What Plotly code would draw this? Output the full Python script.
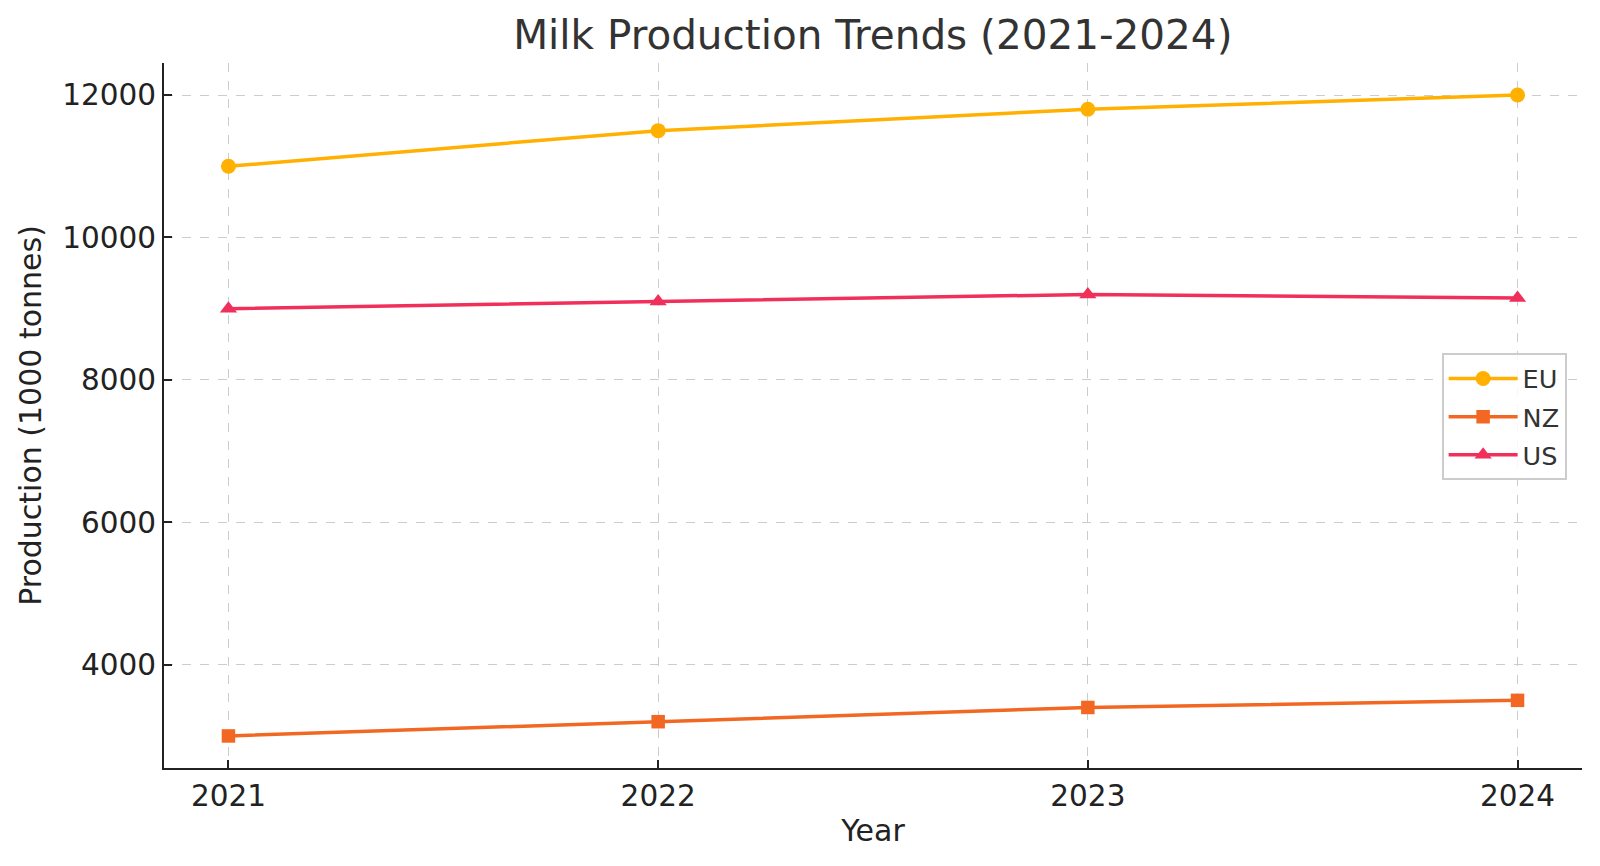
import plotly.graph_objects as go

years = [2021, 2022, 2023, 2024]
eu = [11000, 11500, 11800, 12000]
nz = [3000, 3200, 3400, 3500]
us = [9000, 9100, 9200, 9150]

series = [
    ("EU", eu, "#FFB000", "circle"),
    ("NZ", nz, "#F26822", "square"),
    ("US", us, "#F0305A", "triangle-up"),
]

fig = go.Figure()
for name, vals, col, sym in series:
    fig.add_trace(go.Scatter(
        x=years, y=vals, name=name, mode="lines+markers", legendgroup=name,
        line=dict(color=col, width=3.5),
        marker=dict(symbol=sym, size=15 if sym != "square" else 13.5, color=col),
    ))

font_family = "DejaVu Sans"
fig.update_layout(
    width=1600, height=866,
    margin=dict(l=164, r=18, t=63, b=98),
    paper_bgcolor="white", plot_bgcolor="white",
    font=dict(family=font_family, color="#222222", size=29),
    title=dict(text="Milk Production Trends (2021-2024)", x=0.5455, xanchor="center",
               y=0.96, yanchor="middle",
               font=dict(size=40.5, color="#333333", family=font_family)),
    legend=dict(x=0.901, y=0.588, xanchor="left", yanchor="top",
                bgcolor="rgba(255,255,255,0.85)", bordercolor="#cccccc", borderwidth=2,
                font=dict(size=25.5, color="#333333"), tracegroupgap=2, itemwidth=69),
    showlegend=True,
)
fig.update_xaxes(
    range=[2020.85, 2024.15], tickvals=years, ticktext=[str(y) for y in years],
    showline=True, linecolor="#222222", linewidth=2.2, mirror=False,
    ticks="inside", ticklen=8, tickwidth=2, tickcolor="#222222",
    showgrid=True, gridcolor="#cccccc", griddash="dash", gridwidth=1.3,
    zeroline=False,
    title=dict(text="Year", font=dict(size=30), standoff=8),
    tickfont=dict(size=29.5),
)
fig.update_yaxes(
    range=[2550, 12450], tickvals=[4000, 6000, 8000, 10000, 12000], tickformat="d",
    showline=True, linecolor="#222222", linewidth=2.2, mirror=False,
    ticks="inside", ticklen=8, tickwidth=2, tickcolor="#222222",
    showgrid=True, gridcolor="#cccccc", griddash="dash", gridwidth=1.3,
    zeroline=False,
    title=dict(text="Production (1000 tonnes)", font=dict(size=30), standoff=12),
    tickfont=dict(size=29.5),
)

fig.write_html("out.html")
